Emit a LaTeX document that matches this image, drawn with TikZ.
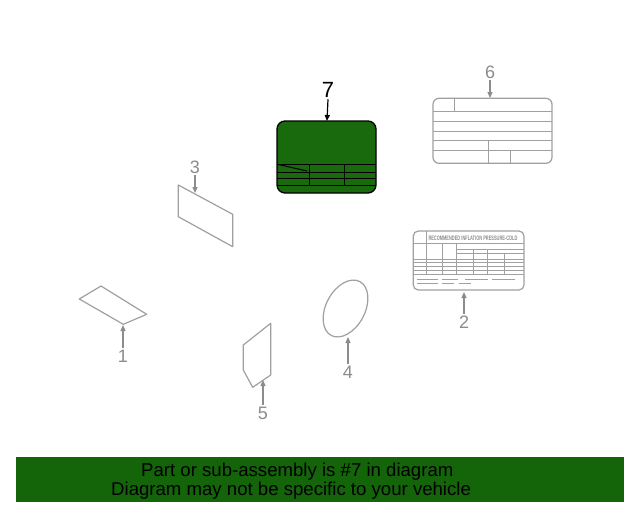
\documentclass[tikz,border=0pt]{standalone}
\usepackage{fontspec}
\setmainfont{Liberation Sans}
\usetikzlibrary{arrows.meta}
\definecolor{bannergreen}{HTML}{14640A}
\definecolor{partgreen}{HTML}{186A0C}
\definecolor{partgray}{HTML}{A0A0A0}
\definecolor{labelgray}{HTML}{8C8C8C}
\tikzset{
  part/.style={draw=partgray, line width=1.2pt, line join=round},
  thin part/.style={draw=partgray, line width=0.8pt},
  lab/.style={text=labelgray, font=\fontsize{18}{18}\selectfont, inner sep=1.5pt},
  arr/.style={draw=labelgray, line width=1.2pt, -{Triangle[length=6pt,width=5pt]}},
  blackarr/.style={draw=black, line width=1.2pt, -{Triangle[length=6pt,width=5pt]}},
  bannertext/.style={anchor=base west, inner sep=0pt, font=\fontsize{18.6}{18.6}\selectfont},
}
\begin{document}
\begin{tikzpicture}[x=1pt,y=-1pt]
\useasboundingbox (0,0) rectangle (640,512);
\fill[white] (0,0) rectangle (640,512);

% ---------- part 7 ----------
\draw[fill=partgreen, draw=black, line width=1.3pt, rounded corners=8pt] (277,121) rectangle (376,193);
\begin{scope}[draw=black, line width=1pt]
  \draw (277,164.5) -- (376,164.5);
  \draw (277,172) -- (376,172);
  \draw (277,178.7) -- (376,178.7);
  \draw (277,185) -- (376,185);
  \draw (309.3,164.5) -- (309.3,185);
  \draw (344,164.5) -- (344,185);
  \draw (278.5,164.5) -- (307,171);
\end{scope}
\node[font=\fontsize{22}{22}\selectfont, inner sep=1.5pt] (lab7) at (328,90) {7};
\coordinate (t7) at (327,121);
\draw[blackarr] (lab7.south) -- (t7);

% ---------- part 6 ----------
\draw[part, rounded corners=6pt] (433,98.3) rectangle (552,163.3);
\begin{scope}[thin part]
  \draw (433,111.7) -- (552,111.7);
  \draw (433,121) -- (552,121);
  \draw (433,131) -- (552,131);
  \draw (433,140.7) -- (552,140.7);
  \draw (433,150) -- (552,150);
  \draw (454.3,98.3) -- (454.3,111.7);
  \draw (488.3,140.7) -- (488.3,163.3);
  \draw (510,150) -- (510,163.3);
\end{scope}
\node[lab] (lab6) at (490,72) {6};
\coordinate (t6) at (490,98);
\draw[arr] (lab6.south) -- (t6);

% ---------- part 2 ----------
\draw[part, rounded corners=5pt] (413.3,231) rectangle (524,290);
\begin{scope}[thin part, line width=0.6pt]
  \draw (426.7,231) -- (426.7,274.5);
  \draw (413.3,243.5) -- (524,243.5);
  \draw (442.3,243.5) -- (442.3,274.5);
  \draw (456.7,243.5) -- (456.7,274.5);
  \draw (456.7,249) -- (524,249);
  \draw (456.7,253.3) -- (524,253.3);
  \draw (473.3,249) -- (473.3,274.5);
  \draw (487.7,249) -- (487.7,274.5);
  \draw (504,253.3) -- (504,274.5);
  \draw (413.3,259.5) -- (524,259.5);
  \draw (413.3,262.5) -- (524,262.5);
  \draw (413.3,266.5) -- (524,266.5);
  \draw (413.3,270.5) -- (524,270.5);
  \draw (413.3,274.5) -- (524,274.5);
  \draw (416.7,279) -- (438.3,279);
  \draw (441.7,279) -- (457.7,279);
  \draw (465,279) -- (488.3,279);
  \draw (492.3,279) -- (515,279);
  \draw (416.7,283.5) -- (438.3,283.5);
  \draw (442.3,283.5) -- (454.3,283.5);
  \draw (459,283.5) -- (471,283.5);
\end{scope}
\node[text=labelgray, inner sep=0pt] (hdr2) at (473,238) {\resizebox{89pt}{4.5pt}{\bfseries RECOMMENDED INFLATION PRESSURE-COLD}};
\node[lab] (lab2) at (464,322) {2};
\coordinate (t2) at (464,292);
\draw[arr] (lab2.north) -- (t2);

% ---------- part 3 ----------
\draw[part] (178.3,185) -- (232.7,214.3) -- (232.7,246.7) -- (178.3,216.7) -- cycle;
\node[lab] (lab3) at (195,167) {3};
\coordinate (t3) at (195,193);
\draw[arr] (lab3.south) -- (t3);

% ---------- part 1 ----------
\draw[part] (79.3,299) -- (101,286) -- (146.7,314.3) -- (123.3,324.3) -- cycle;
\node[lab] (lab1) at (123,356) {1};
\coordinate (t1) at (123,325);
\draw[arr] (lab1.north) -- (t1);

% ---------- part 5 ----------
\draw[part] (243.3,345) -- (270.7,323.3) -- (270.7,375) -- (252.7,387.3) -- (243.3,370) -- cycle;
\node[lab] (lab5) at (263,413) {5};
\coordinate (t5) at (263,380);
\draw[arr] (lab5.north) -- (t5);

% ---------- part 4 ----------
\draw[part, rotate around={62:(345.5,308.5)}] (345.5,308.5) ellipse [x radius=30.5, y radius=19.5];
\node[lab] (lab4) at (348,372) {4};
\coordinate (t4) at (348,337);
\draw[arr] (lab4.north) -- (t4);

% ---------- banner ----------
\fill[bannergreen] (16,457) rectangle (624,502);
\node[bannertext] (ban1) at (141,476.7) {Part or sub-assembly is \#7 in diagram};
\node[bannertext] (ban2) at (111,495.7) {Diagram may not be specific to your vehicle};
\end{tikzpicture}
\end{document}
